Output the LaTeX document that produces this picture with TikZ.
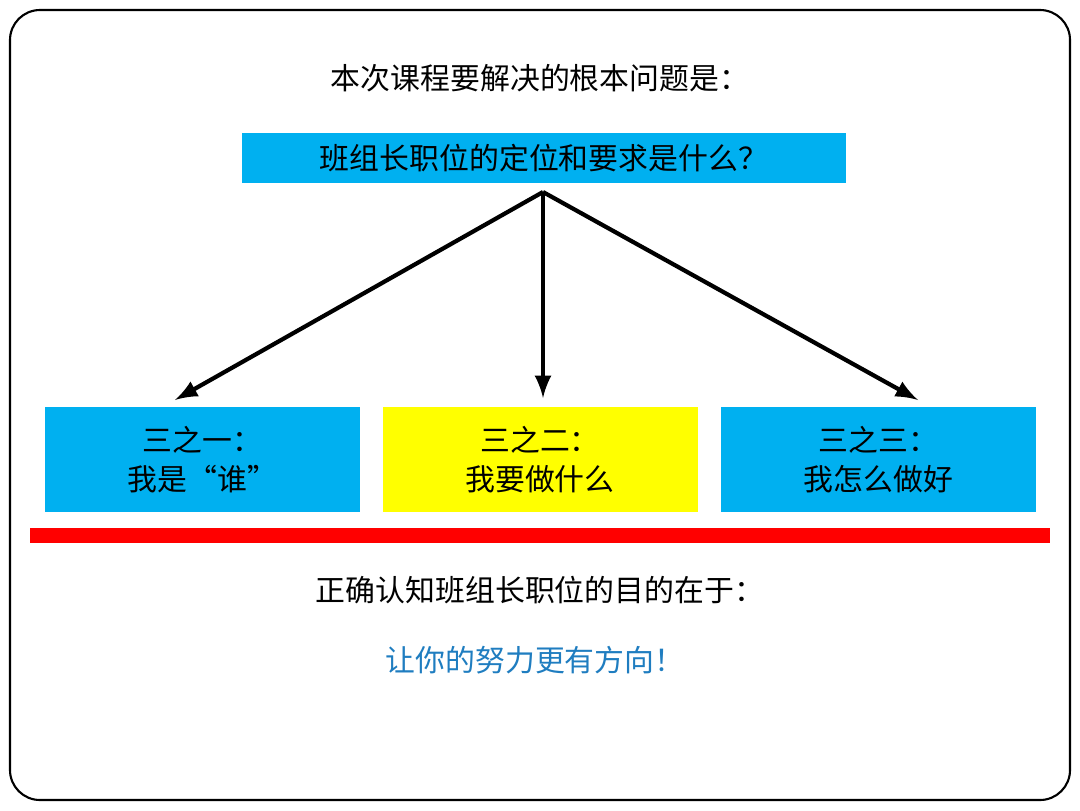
\documentclass[tikz,border=0pt]{standalone}
\usepackage{fontspec}
\setmainfont{Noto Sans CJK SC}
\usetikzlibrary{positioning, arrows}
\definecolor{boxblue}{HTML}{00B0F0}
\definecolor{boxyellow}{HTML}{FFFF00}
\definecolor{textblue}{HTML}{1F7DC0}
\tikzset{
    partbox/.style={rectangle, minimum width=3.15cm, minimum height=1.05cm, align=center, inner sep=0pt, font=\fontsize{8.5}{11}\selectfont},
    label/.style={font=\fontsize{8.5}{11}\selectfont}
}
\begin{document}
\begin{tikzpicture}
    \useasboundingbox (0,0) rectangle (10.8,8.1);
    \draw[line width=0.6pt, rounded corners=0.3cm] (0.1,0.1) rectangle (10.7,8.0);

    \node[label] (Q) at (5.4,7.32) {本次课程要解决的根本问题是：};
    \node[rectangle, fill=boxblue, minimum width=6.04cm, minimum height=0.5cm, inner sep=0pt, label] (Main) at (5.44,6.52) {班组长职位的定位和要求是什么？};

    \node[partbox, fill=boxblue] (One) at (2.025,3.505) {三之一：\\我是“谁”};
    \node[partbox, fill=boxyellow] (Two) at (5.40,3.505) {三之二：\\我要做什么};
    \node[partbox, fill=boxblue] (Three) at (8.785,3.505) {三之三：\\我怎么做好};

    \coordinate (Top) at (5.43,6.18);
    \coordinate (L) at (1.75,4.10);
    \coordinate (M) at (5.43,4.12);
    \coordinate (R) at (9.18,4.10);
    \draw[line width=1.2pt, -latex] (Top) -- (L);
    \draw[line width=1.2pt, -latex] (Top) -- (M);
    \draw[line width=1.2pt, -latex] (Top) -- (R);

    \fill[red] (0.3,2.67) rectangle (10.5,2.82);

    \node[label] (Aim) at (5.4,2.2) {正确认知班组长职位的目的在于：};
    \node[label, text=textblue] (Goal) at (5.35,1.5) {让你的努力更有方向！};
\end{tikzpicture}
\end{document}
